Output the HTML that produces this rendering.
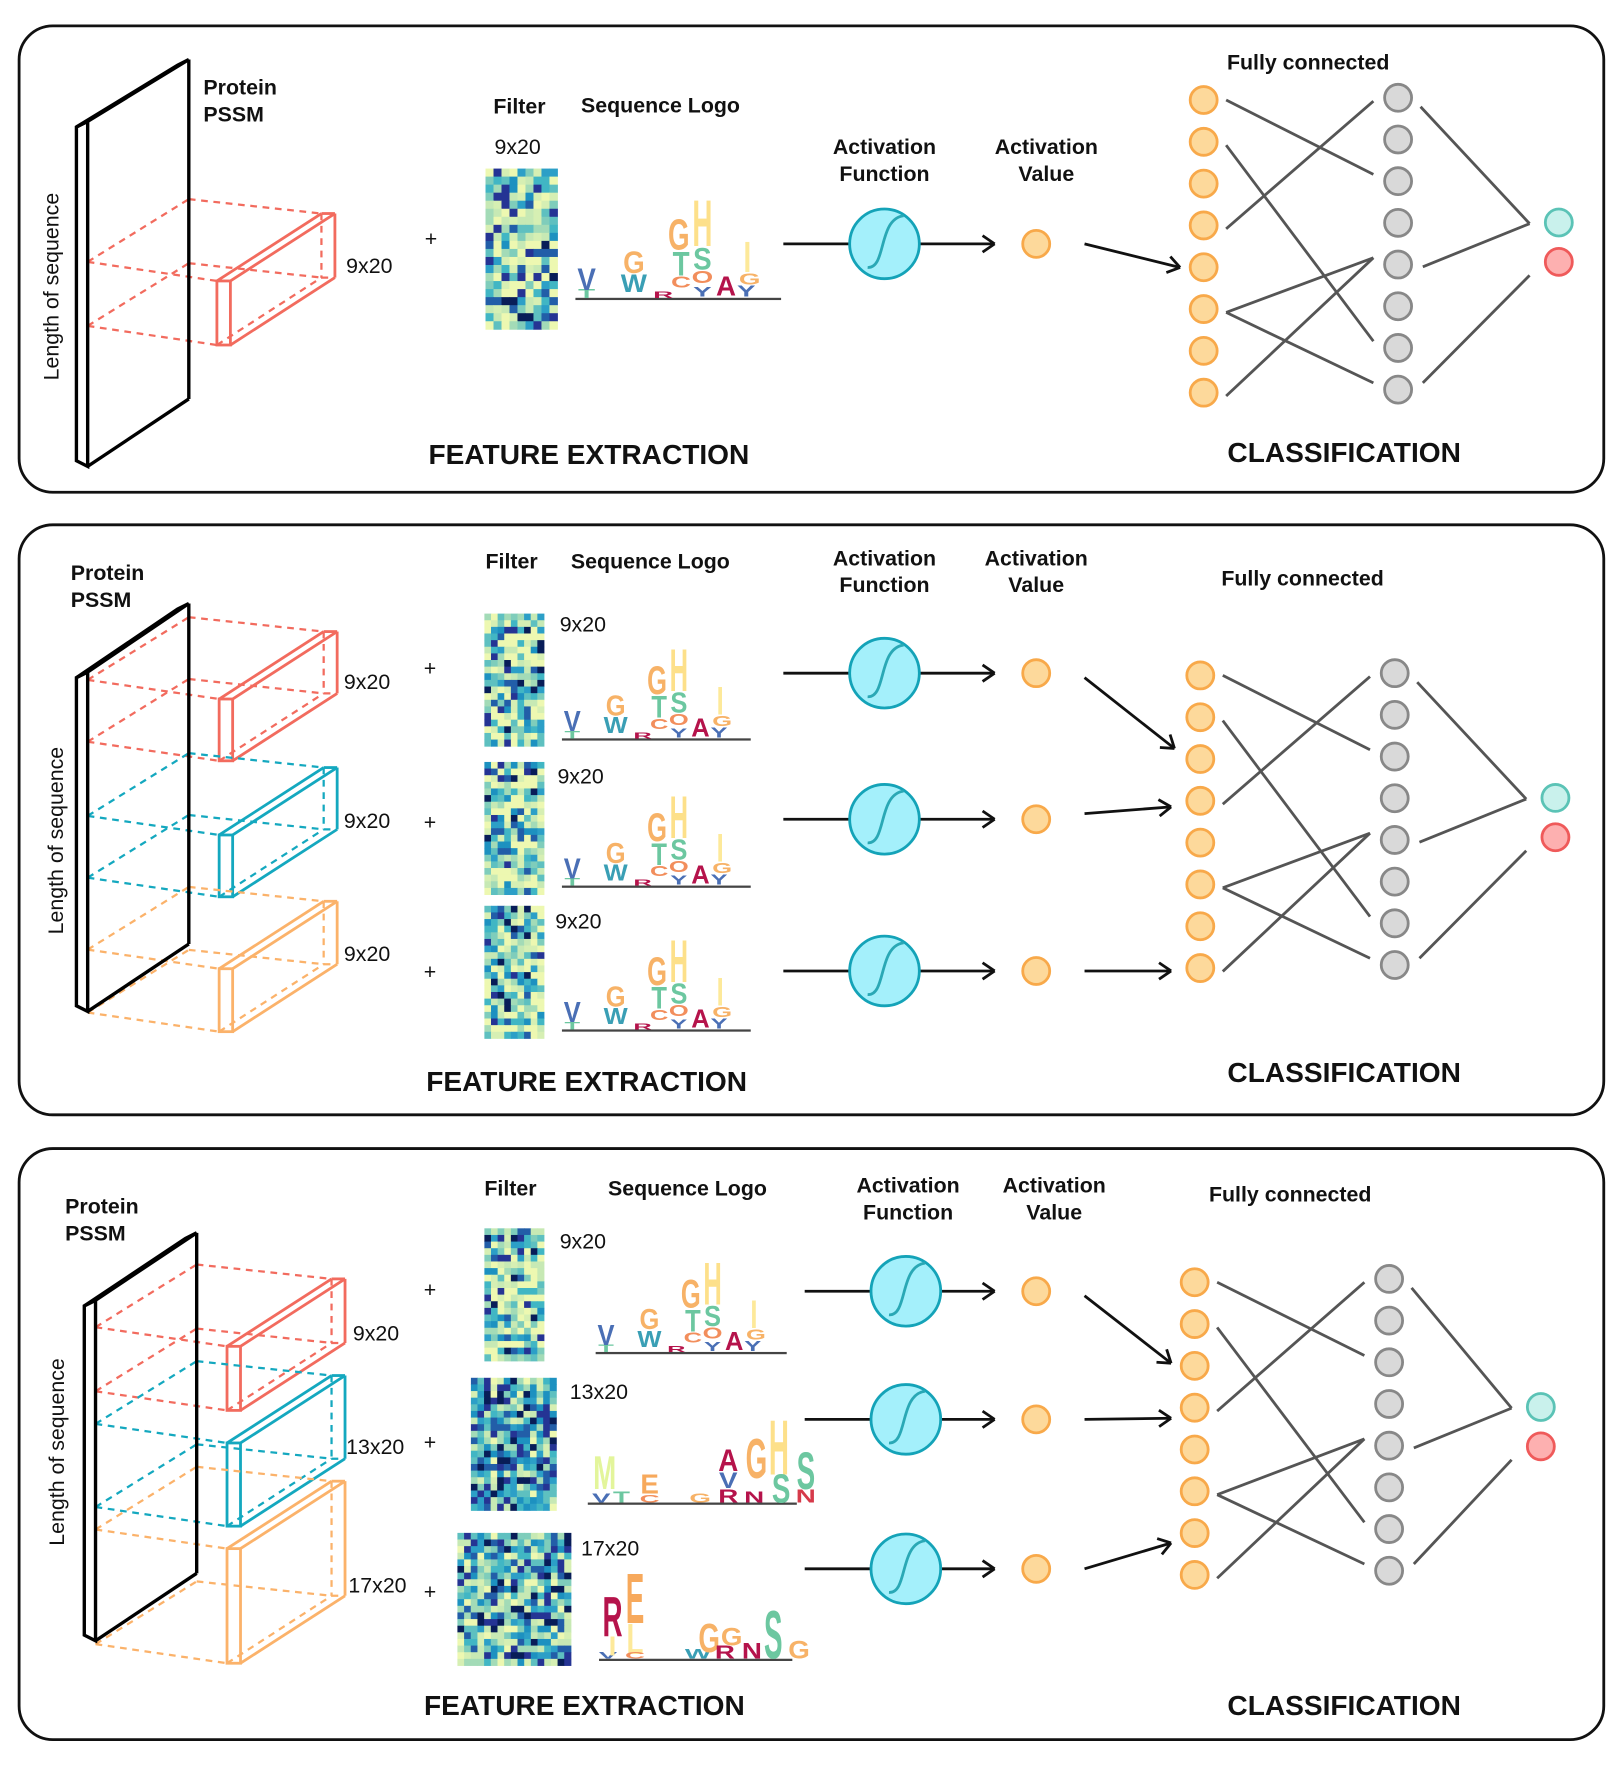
<!DOCTYPE html>
<html><head><meta charset="utf-8">
<style>
html,body{margin:0;padding:0;background:#fff;}
svg{display:block;}
text{font-family:"Liberation Sans",sans-serif;}
</style></head>
<body>
<svg id="s" width="1624" height="1770" viewBox="0 0 1445 1575" preserveAspectRatio="none" xmlns="http://www.w3.org/2000/svg">
<g fill="none" stroke="#111" stroke-width="2.5">
<rect x="17" y="23" width="1410" height="415" rx="30"/>
<rect x="17" y="467" width="1410" height="525" rx="30"/>
<rect x="17" y="1022" width="1410" height="526" rx="30"/>
</g>
<g font-weight="bold" font-size="19" fill="#111">
<text x="181" y="84">Protein</text><text x="181" y="108">PSSM</text>
<text x="439" y="101">Filter</text><text x="517" y="100">Sequence Logo</text>
<text x="787" y="137" text-anchor="middle">Activation</text><text x="787" y="161" text-anchor="middle">Function</text>
<text x="931" y="137" text-anchor="middle">Activation</text><text x="931" y="161" text-anchor="middle">Value</text>
<text x="1164" y="62" text-anchor="middle">Fully connected</text>
<text x="63" y="516">Protein</text><text x="63" y="540">PSSM</text>
<text x="432" y="506">Filter</text><text x="508" y="506">Sequence Logo</text>
<text x="787" y="503" text-anchor="middle">Activation</text><text x="787" y="527" text-anchor="middle">Function</text>
<text x="922" y="503" text-anchor="middle">Activation</text><text x="922" y="527" text-anchor="middle">Value</text>
<text x="1159" y="521" text-anchor="middle">Fully connected</text>
<text x="58" y="1080">Protein</text><text x="58" y="1104">PSSM</text>
<text x="431" y="1064">Filter</text><text x="541" y="1064">Sequence Logo</text>
<text x="808" y="1061" text-anchor="middle">Activation</text><text x="808" y="1085" text-anchor="middle">Function</text>
<text x="938" y="1061" text-anchor="middle">Activation</text><text x="938" y="1085" text-anchor="middle">Value</text>
<text x="1148" y="1069" text-anchor="middle">Fully connected</text>
</g>
<g font-weight="bold" font-size="25" fill="#111">
<text x="524" y="413" text-anchor="middle">FEATURE EXTRACTION</text>
<text x="1196" y="411" text-anchor="middle">CLASSIFICATION</text>
<text x="522" y="971" text-anchor="middle">FEATURE EXTRACTION</text>
<text x="1196" y="963" text-anchor="middle">CLASSIFICATION</text>
<text x="520" y="1526" text-anchor="middle">FEATURE EXTRACTION</text>
<text x="1196" y="1526" text-anchor="middle">CLASSIFICATION</text>
</g>
<g font-size="19" fill="#111">
<text transform="translate(52,255) rotate(-90)" text-anchor="middle">Length of sequence</text>
<text transform="translate(56,748) rotate(-90)" text-anchor="middle">Length of sequence</text>
<text transform="translate(57,1292) rotate(-90)" text-anchor="middle">Length of sequence</text>
<text x="308" y="243">9x20</text><text x="440" y="137">9x20</text><text x="378" y="219">+</text>
<text x="306" y="613">9x20</text><text x="306" y="737">9x20</text><text x="306" y="855">9x20</text>
<text x="377" y="601">+</text><text x="377" y="738">+</text><text x="377" y="871">+</text>
<text x="498" y="562">9x20</text><text x="496" y="697">9x20</text><text x="494" y="826">9x20</text>
<text x="314" y="1193">9x20</text><text x="308" y="1294">13x20</text><text x="310" y="1417">17x20</text>
<text x="377" y="1154">+</text><text x="377" y="1290">+</text><text x="377" y="1423">+</text>
<text x="498" y="1111">9x20</text><text x="507" y="1245">13x20</text><text x="517" y="1384">17x20</text>
</g>
<g id="dyn"></g>
</svg>
<script>
var out='';
function L(a,b,c,d,col,w,dash){out+='<line x1="'+a+'" y1="'+b+'" x2="'+c+'" y2="'+d+'" stroke="'+col+'" stroke-width="'+(w||2.5)+'"'+(dash?' stroke-dasharray="'+dash+'"':'')+'/>';}
function slab(x0,yt,yb,x1,yt2,yb2){
 out+='<polygon points="'+x0+','+(yt+5)+' '+(x0+10)+','+yt+' '+(x0+10)+','+yb+' '+x0+','+(yb-5)+'" fill="#fff" stroke="#000" stroke-width="3"/>';
 out+='<polygon points="'+x0+','+(yt+5)+' '+(x1-10)+','+(yt2+5)+' '+x1+','+yt2+' '+(x0+10)+','+yt+'" fill="#fff" stroke="#000" stroke-width="3"/>';
 L(x1,yt2,x1,yb2,'#000',3);L(x0+10,yb,x1,yb2,'#000',3);
}
function box(sx0,sx1,slope,fx,fy,h,col){
 var w=12,dx=93,dy=-60;
 var l1=fy-17,r1=l1-(sx1-sx0)*slope,l2=fy+h-17,r2=l2-(sx1-sx0)*slope;
 var D='6 5';
 L(sx0,l1,sx1,r1,col,2,D);L(sx0,l2,sx1,r2,col,2,D);
 L(sx1,r1,fx+dx,fy+dy,col,2,D);L(sx0,l1,fx,fy,col,2,D);L(sx0,l2,fx,fy+h,col,2,D);L(sx1,r2,fx+dx,fy+h+dy,col,2,D);
 L(fx+dx,fy+dy,fx+dx,fy+h+dy,col,2,D);L(fx,fy+h,fx+dx,fy+h+dy,col,2,D);L(fx+dx,fy+h+dy,fx+w+dx,fy+h+dy,col,2,D);
 out+='<rect x="'+fx+'" y="'+fy+'" width="'+w+'" height="'+h+'" fill="none" stroke="'+col+'" stroke-width="2.5"/>';
 L(fx,fy,fx+dx,fy+dy,col);L(fx+w,fy,fx+w+dx,fy+dy,col);L(fx+dx,fy+dy,fx+w+dx,fy+dy,col);
 L(fx+w+dx,fy+dy,fx+w+dx,fy+h+dy,col);L(fx+w,fy+h,fx+w+dx,fy+h+dy,col);
}
var RED='#f26b5e',TEAL='#14a8bf',ORG='#fbb26a';
box(78,168,0.62,193,250,57,RED);
slab(68,108,415,168,53,355);
box(78,168,0.62,195,622,55,RED);
box(78,168,0.62,195,743,55,TEAL);
box(78,168,0.62,195,862,56,ORG);
slab(68,598,900,168,537,840);
box(85,175,0.62,202,1198,57,RED);
box(85,175,0.62,202,1284,74,TEAL);
box(85,175,0.62,202,1378,102,ORG);
slab(75,1157,1460,175,1097,1400);
var seed=7;function rnd(){seed=(seed*16807)%2147483647;return seed/2147483647;}
var pal=['#edf8b1','#d6efb3','#c7e9b4','#a3dbb7','#7fcdbb','#5ec0c0','#41b6c4','#2c9fc7','#1d91c0','#225ea8','#253494','#081d58'];
function heat(x,y,w,h,cols,rows,bias){
 var cw=w/cols,ch=h/rows;
 for(var r=0;r<rows;r++)for(var c=0;c<cols;c++){
  var v=Math.pow(rnd(),bias);var i=Math.min(pal.length-1,Math.floor(v*pal.length));
  out+='<rect x="'+(x+c*cw).toFixed(2)+'" y="'+(y+r*ch).toFixed(2)+'" width="'+(cw+0.4).toFixed(2)+'" height="'+(ch+0.4).toFixed(2)+'" fill="'+pal[i]+'"/>';
 }
}
heat(432,150,64,143,9,20,1.7);
heat(431,546,53,118,9,20,1.7);heat(431,678,53,118,9,20,1.7);heat(431,806,53,118,9,20,1.7);
heat(431,1093,53,118,9,20,1.7);heat(419,1226,76,118,13,20,0.75);heat(407,1364,101,118,17,20,1.05);
var C={b:'#4a6fb5',t:'#3a9fb5',o:'#f7b267',y:'#fde08a',g:'#6cc7a0',r:'#f28e5c',m:'#b5134b',l:'#fde99a',n:'#d63a4a',p:'#e3f59b',e:'#f7a95c'};
var L1=[['T',10,0,8,'g'],['V',10,-7,20,'b'],['W',52,-5,16,'t'],['G',52,-22,20,'o'],['R',78,0,6,'m'],['C',94,-9,10,'r'],['T',94,-20,22,'g'],['G',92,-43,28,'o'],['Y',113,-1,9,'b'],['O',113,-13,11,'r'],['S',113,-25,20,'g'],['H',113,-46,42,'y'],['A',134,-2,18,'m'],['Y',152,-1,10,'b'],['G',155,-12,10,'o'],['I',153,-23,28,'l']];
var L2=[['V',12,0,8,'b'],['M',15,-12,30,'p'],['T',30,0,10,'g'],['E',55,-8,18,'e'],['C',55,0,7,'r'],['G',100,0,8,'o'],['R',125,0,12,'m'],['V',125,-13,14,'b'],['A',125,-28,20,'m'],['N',148,0,10,'m'],['G',150,-22,36,'o'],['H',170,-25,50,'y'],['S',172,0,26,'g'],['S',194,-12,34,'g'],['N',194,0,12,'n']];
var L3=[['V',8,0,6,'b'],['R',12,-20,36,'m'],['I',12,-3,18,'l'],['E',32,-32,46,'e'],['L',32,-4,28,'l'],['C',32,0,6,'r'],['W',88,0,9,'t'],['G',98,-6,26,'o'],['R',112,0,12,'m'],['G',118,-12,16,'o'],['N',136,0,14,'m'],['S',155,0,44,'g'],['G',178,0,16,'o']];
function logo(x0,base,arr,s,len){
 out+='<rect x="'+x0+'" y="'+(base)+'" width="'+len+'" height="2" fill="#444"/>';
 arr.forEach(function(a){var h=a[3]*s,fs=26*s,sy=h/(0.72*fs);
  out+='<text x="0" y="0" text-anchor="middle" font-weight="bold" font-size="'+fs.toFixed(1)+'" fill="'+C[a[4]]+'" transform="translate('+(x0+a[1]*s).toFixed(1)+','+(base+a[2]*s).toFixed(1)+') scale(0.95,'+sy.toFixed(3)+')">'+a[0]+'</text>';});
}
logo(512,265,L1,1,183);
logo(500,657,L1,0.92,168);logo(500,788,L1,0.92,168);logo(500,916,L1,0.92,168);
logo(530,1203,L1,0.92,170);logo(523,1337,L2,1,186);logo(533,1476,L3,1,172);
function arrow(x1,y1,x2,y2){L(x1,y1,x2,y2,'#111',2.5);var a=Math.atan2(y2-y1,x2-x1),k=13;
 L(x2,y2,x2-k*Math.cos(a-0.6),y2-k*Math.sin(a-0.6),'#111',2.5);L(x2,y2,x2-k*Math.cos(a+0.6),y2-k*Math.sin(a+0.6),'#111',2.5);}
function act(xs,xc,y,xe,xa,tx,ty){
 L(xs,y,xc-31,y,'#111',2.5);arrow(xc+31,y,xe,y);
 out+='<circle cx="'+xc+'" cy="'+y+'" r="31" fill="#a4f0fb" stroke="#14a3b8" stroke-width="2.5"/>';
 out+='<path d="M'+(xc-15)+','+(y+21)+' C'+(xc+2)+','+(y+22)+' '+(xc-6)+','+(y-22)+' '+(xc+17)+','+(y-25)+'" fill="none" stroke="#2aa8b5" stroke-width="2.5"/>';
 out+='<circle cx="'+xa+'" cy="'+y+'" r="12" fill="#fdd99b" stroke="#f8a94a" stroke-width="2.5"/>';
 arrow(xa+43,tx[0],tx[1],ty);
}
act(697,787,217,885,922,[217,1050],238);
act(697,787,599,885,922,[603,1045],666);
act(697,787,729,885,922,[724,1042],718);
act(697,787,864,885,922,[864,1042],864);
act(716,806,1149,885,922,[1153,1042],1213);
act(716,806,1263,885,922,[1263,1042],1262);
act(716,806,1396,885,922,[1396,1042],1373);
function nn(ox,oy,gx,gy,tx,ty){
 var o=[],g=[],i;
 for(i=0;i<8;i++){o.push(oy+i*37.2);g.push(gy+i*37.1);}
 var pairs=[[0,2],[1,6],[3,0],[5,4],[5,7],[7,4]];
 pairs.forEach(function(p){L(ox+20,o[p[0]]+(p[0]==0?0:3),gx-22,g[p[1]]-(p[1]==0?-3:6),'#555',2.5);});
 L(gx+20,g[0]+8,tx-26,ty+1,'#555',2.5);L(gx+22,g[4]+2,tx-26,ty+1,'#555',2.5);L(gx+22,g[7]-6,tx-26,ty+47,'#555',2.5);
 for(i=0;i<8;i++){out+='<circle cx="'+ox+'" cy="'+o[i]+'" r="12" fill="#fdd99b" stroke="#f8a94a" stroke-width="2.5"/>';
  out+='<circle cx="'+gx+'" cy="'+g[i]+'" r="12" fill="#d9d9d9" stroke="#888" stroke-width="2.5"/>';}
 out+='<circle cx="'+tx+'" cy="'+ty+'" r="12" fill="#c9f1ec" stroke="#5bc3b6" stroke-width="2.5"/>';
 out+='<circle cx="'+tx+'" cy="'+(ty+35)+'" r="12" fill="#fdb0b0" stroke="#ef5a5a" stroke-width="2.5"/>';
}
nn(1071,89,1244,87,1387,198);
nn(1068,601,1241,599,1384,710);
nn(1063,1141,1236,1138,1371,1252);
document.getElementById('dyn').innerHTML=out;
</script>
</body></html>
